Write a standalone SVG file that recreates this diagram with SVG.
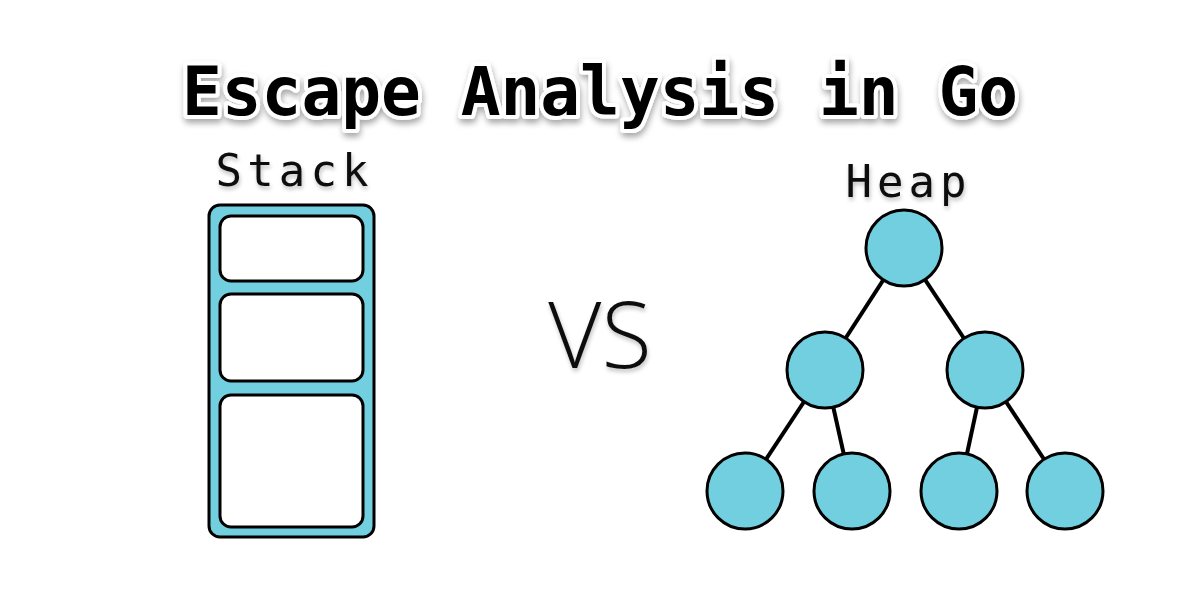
<svg xmlns="http://www.w3.org/2000/svg" width="1200" height="600" viewBox="0 0 1200 600">
  <defs>
    <filter id="shadow" x="-10%" y="-30%" width="120%" height="160%">
      <feGaussianBlur in="SourceAlpha" stdDeviation="3"/>
      <feOffset dx="1" dy="4" result="b"/>
      <feComponentTransfer in="b" result="s"><feFuncA type="linear" slope="0.35"/></feComponentTransfer>
      <feMerge><feMergeNode in="s"/><feMergeNode in="SourceGraphic"/></feMerge>
    </filter>
    <filter id="soft" x="-10%" y="-30%" width="120%" height="160%">
      <feGaussianBlur in="SourceAlpha" stdDeviation="2"/>
      <feOffset dx="1" dy="3" result="b"/>
      <feComponentTransfer in="b" result="s"><feFuncA type="linear" slope="0.25"/></feComponentTransfer>
      <feMerge><feMergeNode in="s"/><feMergeNode in="SourceGraphic"/></feMerge>
    </filter>
  </defs>
  <style>
    .title { font-family: "DejaVu Sans Mono", "Liberation Mono", monospace; font-weight: bold; font-size: 68px; fill: #000; stroke: #fff; stroke-width: 8px; stroke-linejoin: round; paint-order: stroke; }
    .label { font-family: "DejaVu Sans Mono", "Liberation Mono", monospace; font-size: 44px; fill: #111; }
    .vs { font-family: "Open Sans", "Noto Sans", sans-serif; font-weight: 300; font-size: 92px; fill: #111; }
    .node { fill: #72cfdf; stroke: #000; stroke-width: 3; }
    .slot { fill: #fff; stroke: #000; stroke-width: 3; }
    .edge { stroke: #000; stroke-width: 4; }
  </style>
  <rect width="1200" height="600" fill="#fff"/>

  <text class="title" x="600" y="115" text-anchor="middle" textLength="836" lengthAdjust="spacingAndGlyphs" filter="url(#shadow)">Escape Analysis in Go</text>

  <g id="stack">
    <text class="label" x="292" y="186" text-anchor="middle" textLength="153" lengthAdjust="spacing" filter="url(#soft)">Stack</text>
    <rect class="node" x="209" y="205" width="165" height="332" rx="11"/>
    <rect class="slot" x="220" y="216" width="143" height="65" rx="11"/>
    <rect class="slot" x="220" y="294" width="143" height="87" rx="11"/>
    <rect class="slot" x="220" y="395" width="143" height="132" rx="11"/>
  </g>

  <g id="vs">
    <text class="vs" x="600" y="368" text-anchor="middle" filter="url(#soft)">VS</text>
  </g>

  <g id="heap-label">
    <text class="label" x="906" y="197" text-anchor="middle" textLength="121" lengthAdjust="spacing" font-size="42" filter="url(#soft)">Heap</text>
  </g>

  <g id="connectors">
    <line class="edge" x1="904" y1="248" x2="825" y2="370"/>
    <line class="edge" x1="904" y1="248" x2="985" y2="370"/>
    <line class="edge" x1="825" y1="370" x2="745" y2="491"/>
    <line class="edge" x1="825" y1="370" x2="852" y2="491"/>
    <line class="edge" x1="985" y1="370" x2="959" y2="491"/>
    <line class="edge" x1="985" y1="370" x2="1065" y2="491"/>
  </g>

  <g id="n-root"><circle class="node" cx="904" cy="248" r="38"/></g>
  <g id="n-left"><circle class="node" cx="825" cy="370" r="38"/></g>
  <g id="n-right"><circle class="node" cx="985" cy="370" r="38"/></g>
  <g id="n-ll"><circle class="node" cx="745" cy="491" r="38"/></g>
  <g id="n-lr"><circle class="node" cx="852" cy="491" r="38"/></g>
  <g id="n-rl"><circle class="node" cx="959" cy="491" r="38"/></g>
  <g id="n-rr"><circle class="node" cx="1065" cy="491" r="38"/></g>
</svg>
